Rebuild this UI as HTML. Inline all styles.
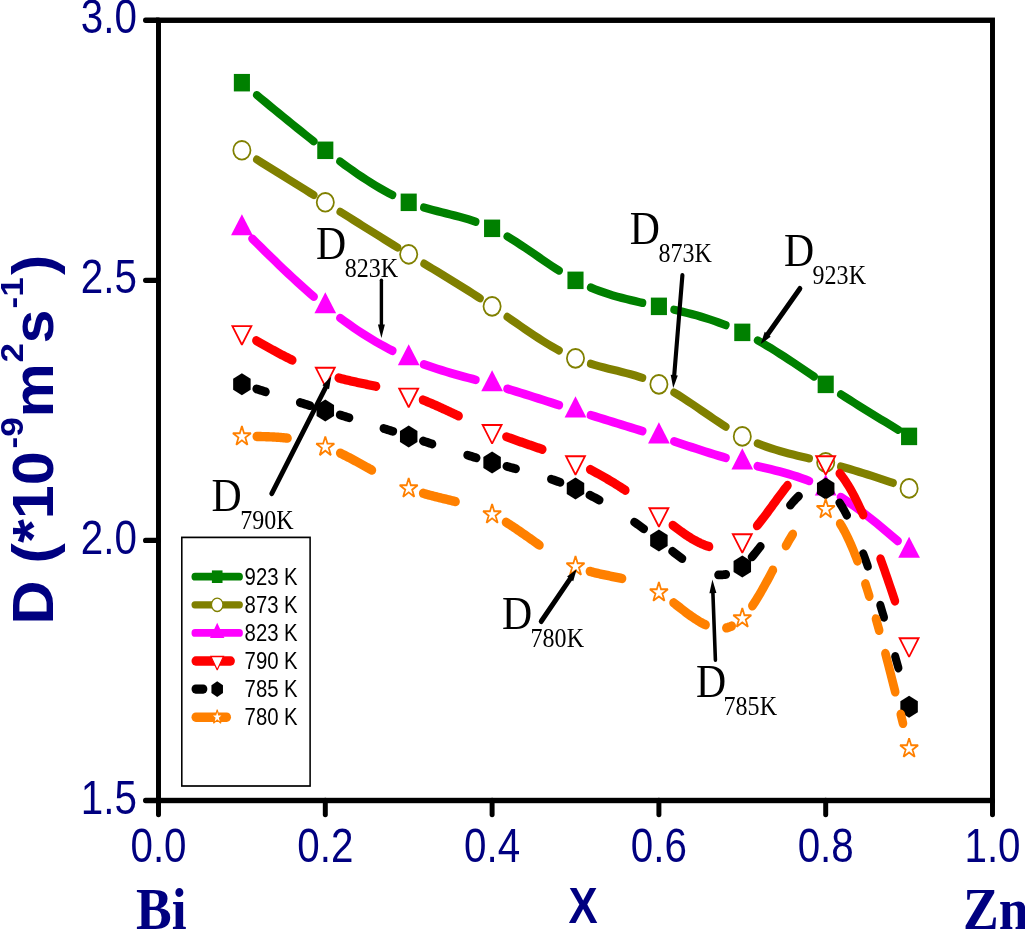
<!DOCTYPE html>
<html><head><meta charset="utf-8"><title>D vs X</title>
<style>html,body{margin:0;padding:0;background:#fff;overflow:hidden}svg{display:block}.sans{font-family:"Liberation Sans",sans-serif}.serif{font-family:"Liberation Serif",serif}</style>
</head><body>
<svg width="1025" height="929" viewBox="0 0 1025 929">
<rect width="1025" height="929" fill="#fff"/>
<g transform="scale(0.92,1)">
<g fill="none" stroke="#000" stroke-width="5.4" stroke-linecap="round">
<rect x="172.28" y="20.26" width="906.52" height="780.24" stroke-linejoin="miter"/>
<path d="M172.28,20.26 H158.15"/>
<path d="M172.28,280.34 H158.15"/>
<path d="M172.28,540.42 H158.15"/>
<path d="M172.28,800.5 H158.15"/>
<path d="M172.28,800.5 V814.5"/>
<path d="M353.59,800.5 V814.5"/>
<path d="M534.89,800.5 V814.5"/>
<path d="M716.2,800.5 V814.5"/>
<path d="M897.5,800.5 V814.5"/>
<path d="M1078.8,800.5 V814.5"/>
</g>
<text transform="translate(148.8,33.36) scale(0.91,1)" class="sans" font-size="48.2" text-anchor="end" fill="#000080" font-weight="normal">3.0</text>
<text transform="translate(148.8,293.44) scale(0.91,1)" class="sans" font-size="48.2" text-anchor="end" fill="#000080" font-weight="normal">2.5</text>
<text transform="translate(148.8,553.52) scale(0.91,1)" class="sans" font-size="48.2" text-anchor="end" fill="#000080" font-weight="normal">2.0</text>
<text transform="translate(148.8,813.6) scale(0.91,1)" class="sans" font-size="48.2" text-anchor="end" fill="#000080" font-weight="normal">1.5</text>
<text transform="translate(172.28,862) scale(0.91,1)" class="sans" font-size="48.2" text-anchor="middle" fill="#000080" font-weight="normal">0.0</text>
<text transform="translate(353.59,862) scale(0.91,1)" class="sans" font-size="48.2" text-anchor="middle" fill="#000080" font-weight="normal">0.2</text>
<text transform="translate(534.89,862) scale(0.91,1)" class="sans" font-size="48.2" text-anchor="middle" fill="#000080" font-weight="normal">0.4</text>
<text transform="translate(716.2,862) scale(0.91,1)" class="sans" font-size="48.2" text-anchor="middle" fill="#000080" font-weight="normal">0.6</text>
<text transform="translate(897.5,862) scale(0.91,1)" class="sans" font-size="48.2" text-anchor="middle" fill="#000080" font-weight="normal">0.8</text>
<text transform="translate(1078.8,862) scale(0.91,1)" class="sans" font-size="48.2" text-anchor="middle" fill="#000080" font-weight="normal">1.0</text>
<text transform="translate(147.83,928.5) scale(0.97,1)" class="serif" font-size="60" text-anchor="start" fill="#000080" font-weight="bold">Bi</text>
<text transform="translate(633.7,923) scale(0.96,1)" class="sans" font-size="49.5" text-anchor="middle" fill="#000080" font-weight="bold">X</text>
<text transform="translate(1046.74,928.5) scale(0.97,1)" class="serif" font-size="60" text-anchor="start" fill="#000080" font-weight="bold">Zn</text>
<g transform="translate(58.15,624.5) rotate(-90)" class="sans" font-weight="bold" fill="#000080">
<text transform="translate(0,0) scale(0.97,1)" font-size="63">D (*10</text>
<text transform="translate(176,-33.5) scale(1,1)" font-size="35">-9</text>
<text transform="translate(207,0) scale(0.97,1)" font-size="63">m</text>
<text transform="translate(262,-33.5) scale(1,1)" font-size="35">2</text>
<text transform="translate(281,0) scale(0.97,1)" font-size="63">s</text>
<text transform="translate(316,-33.5) scale(1,1)" font-size="35">-1</text>
<text transform="translate(349.5,0) scale(0.97,1)" font-size="63">)</text>
</g>
<g fill="none" stroke="#008000" stroke-width="8.3" stroke-linecap="round" stroke-linejoin="round">
<path d="M279.13,95.06 L283.97,98.74 L288.81,102.42 L293.64,106.09 L298.48,109.75 L303.31,113.4 L308.15,117.04 L312.98,120.66 L317.82,124.27 L322.65,127.86 L327.49,131.43 L332.33,134.98 L337.16,138.5 L341.03,141.31"/>
<path d="M369.56,161.42 L374.4,164.69 L379.23,167.91 L384.07,171.05 L388.9,174.13 L393.74,177.14 L398.57,180.06 L403.41,182.89 L408.24,185.62 L413.08,188.25 L417.92,190.78 L422.75,193.19 L426.62,195.02"/>
<path d="M460.71,207.49 L465.55,208.78 L470.38,210 L475.22,211.16 L480.05,212.29 L484.89,213.41 L489.72,214.52 L494.56,215.66 L499.4,216.83 L504.23,218.06 L509.07,219.36 L513.9,220.76 L517.04,221.72"/>
<path d="M551.38,236.45 L556.21,239.14 L561.05,241.94 L565.88,244.83 L570.72,247.78 L575.56,250.79 L580.39,253.83 L585.23,256.88 L590.06,259.93 L594.9,262.95 L599.73,265.93 L604.57,268.85 L607.71,270.7"/>
<path d="M642.04,287.51 L646.88,289.31 L651.72,290.99 L656.55,292.56 L661.39,294.02 L666.22,295.39 L671.06,296.68 L675.89,297.89 L680.73,299.04 L685.57,300.14 L690.4,301.18 L695.24,302.19 L698.38,302.83"/>
<path d="M732.71,309.71 L737.55,310.76 L742.38,311.84 L747.22,312.96 L752.05,314.12 L756.89,315.34 L761.73,316.62 L766.56,317.96 L771.4,319.37 L776.23,320.86 L781.07,322.43 L785.9,324.08 L788.93,325.16"/>
<path d="M823.5,340.37 L828.34,342.91 L833.17,345.53 L838.01,348.22 L842.84,350.98 L847.68,353.8 L852.51,356.67 L857.35,359.58 L862.19,362.52 L867.02,365.5 L871.86,368.49 L876.69,371.49 L881.53,374.5 L884.91,376.61"/>
<path d="M913.93,394.25 L918.76,397.11 L923.6,399.94 L928.43,402.75 L933.27,405.54 L938.1,408.32 L942.94,411.08 L947.78,413.82 L952.61,416.55 L957.45,419.28 L962.28,421.99 L967.12,424.69 L971.95,427.39 L976.3,429.81"/>
</g>
<rect x="254.18" y="73.93" width="17.5" height="17.5" fill="#008000"/>
<rect x="344.84" y="141.55" width="17.5" height="17.5" fill="#008000"/>
<rect x="435.49" y="193.57" width="17.5" height="17.5" fill="#008000"/>
<rect x="526.14" y="219.57" width="17.5" height="17.5" fill="#008000"/>
<rect x="616.79" y="271.59" width="17.5" height="17.5" fill="#008000"/>
<rect x="707.45" y="297.6" width="17.5" height="17.5" fill="#008000"/>
<rect x="798.1" y="323.61" width="17.5" height="17.5" fill="#008000"/>
<rect x="888.75" y="375.62" width="17.5" height="17.5" fill="#008000"/>
<rect x="979.4" y="427.64" width="17.5" height="17.5" fill="#008000"/>
<g fill="none" stroke="#808000" stroke-width="8.2" stroke-linecap="round" stroke-linejoin="round">
<path d="M279.13,159.56 L283.97,162.33 L288.81,165.1 L293.64,167.87 L298.48,170.63 L303.31,173.4 L308.15,176.18 L312.98,178.95 L317.82,181.72 L322.65,184.5 L327.49,187.28 L332.33,190.06 L337.16,192.84 L341.03,195.07"/>
<path d="M369.8,211.7 L374.64,214.5 L379.47,217.29 L384.31,220.09 L389.14,222.89 L393.98,225.68 L398.81,228.47 L403.65,231.25 L408.49,234.03 L413.32,236.81 L418.16,239.57 L422.99,242.33 L427.83,245.08 L432.06,247.48"/>
<path d="M460.95,263.64 L465.79,266.32 L470.62,269.01 L475.46,271.7 L480.29,274.39 L485.13,277.1 L489.97,279.83 L494.8,282.57 L499.64,285.32 L504.47,288.11 L509.31,290.92 L514.14,293.76 L518.98,296.63 L521.76,298.3"/>
<path d="M551.38,316.85 L556.21,319.96 L561.05,323.07 L565.88,326.16 L570.72,329.23 L575.56,332.25 L580.39,335.22 L585.23,338.13 L590.06,340.97 L594.9,343.71 L599.73,346.36 L604.57,348.9 L607.71,350.49"/>
<path d="M642.04,363.79 L646.88,365.12 L651.72,366.36 L656.55,367.53 L661.39,368.66 L666.22,369.77 L671.06,370.86 L675.89,371.97 L680.73,373.12 L685.57,374.31 L690.4,375.58 L695.24,376.94 L698.38,377.88"/>
<path d="M732.71,392.49 L737.55,395.19 L742.38,398 L747.22,400.9 L752.05,403.87 L756.89,406.89 L761.73,409.94 L766.56,413.01 L771.4,416.07 L776.23,419.1 L781.07,422.08 L785.9,425 L788.93,426.78"/>
<path d="M823.38,443.4 L828.22,445.14 L833.05,446.76 L837.89,448.27 L842.72,449.68 L847.56,451.01 L852.39,452.26 L857.23,453.45 L862.06,454.58 L866.9,455.68 L871.74,456.75 L876.57,457.79 L879.59,458.44"/>
<path d="M913.93,466.43 L918.76,467.7 L923.6,469.01 L928.43,470.34 L933.27,471.7 L938.1,473.09 L942.94,474.5 L947.78,475.93 L952.61,477.38 L957.45,478.84 L962.28,480.33 L967.12,481.82 L970.74,482.95"/>
</g>
<circle cx="262.93" cy="150.3" r="9.35" fill="#fff" stroke="#808000" stroke-width="1.9"/>
<circle cx="353.59" cy="202.32" r="9.35" fill="#fff" stroke="#808000" stroke-width="1.9"/>
<circle cx="444.24" cy="254.33" r="9.35" fill="#fff" stroke="#808000" stroke-width="1.9"/>
<circle cx="534.89" cy="306.35" r="9.35" fill="#fff" stroke="#808000" stroke-width="1.9"/>
<circle cx="625.54" cy="358.36" r="9.35" fill="#fff" stroke="#808000" stroke-width="1.9"/>
<circle cx="716.2" cy="384.37" r="9.35" fill="#fff" stroke="#808000" stroke-width="1.9"/>
<circle cx="806.85" cy="436.39" r="9.35" fill="#fff" stroke="#808000" stroke-width="1.9"/>
<circle cx="897.5" cy="462.4" r="9.35" fill="#fff" stroke="#808000" stroke-width="1.9"/>
<circle cx="988.15" cy="488.4" r="9.35" fill="#fff" stroke="#808000" stroke-width="1.9"/>
<g fill="none" stroke="#ff00ff" stroke-width="8.7" stroke-linecap="round" stroke-linejoin="round">
<path d="M274.3,238.73 L279.13,243.15 L283.97,247.55 L288.81,251.93 L293.64,256.28 L298.48,260.61 L303.31,264.9 L308.15,269.15 L312.98,273.36 L317.82,277.52 L322.65,281.63 L327.49,285.68 L332.33,289.66 L337.16,293.59 L341.03,296.67"/>
<path d="M369.8,317.99 L374.64,321.27 L379.47,324.46 L384.31,327.56 L389.14,330.57 L393.98,333.49 L398.81,336.32 L403.65,339.05 L408.49,341.7 L413.32,344.25 L418.16,346.71 L422.99,349.08 L426.62,350.8"/>
<path d="M460.71,364.34 L465.55,365.91 L470.38,367.43 L475.22,368.88 L480.05,370.28 L484.89,371.63 L489.72,372.93 L494.56,374.21 L499.4,375.46 L504.23,376.68 L509.07,377.89 L513.9,379.09 L517.04,379.87"/>
<path d="M551.38,388.79 L556.21,390.13 L561.05,391.49 L565.88,392.86 L570.72,394.25 L575.56,395.65 L580.39,397.07 L585.23,398.49 L590.06,399.91 L594.9,401.34 L599.73,402.78 L604.57,404.21 L607.71,405.14"/>
<path d="M642.04,415.13 L646.88,416.51 L651.72,417.88 L656.55,419.25 L661.39,420.62 L666.22,421.99 L671.06,423.36 L675.89,424.73 L680.73,426.1 L685.57,427.48 L690.4,428.86 L695.24,430.25 L698.38,431.16"/>
<path d="M732.71,441.37 L737.55,442.85 L742.38,444.32 L747.22,445.79 L752.05,447.25 L756.89,448.7 L761.73,450.14 L766.56,451.56 L771.4,452.97 L776.23,454.35 L781.07,455.71 L785.9,457.04 L788.93,457.86"/>
<path d="M823.38,466.13 L828.22,467.19 L833.05,468.26 L837.89,469.34 L842.72,470.44 L847.56,471.59 L852.39,472.79 L857.23,474.04 L862.06,475.37 L866.9,476.79 L871.74,478.29 L876.57,479.91 L879.59,480.98"/>
<path d="M913.93,497.08 L918.76,499.95 L923.6,502.95 L928.43,506.06 L933.27,509.29 L938.1,512.61 L942.94,516.03 L947.78,519.54 L952.61,523.11 L957.45,526.75 L962.28,530.45 L967.12,534.2 L971.95,537.98 L975.82,541.03"/>
</g>
<path d="M262.93,214.22 L274.73,235.32 L251.13,235.32 Z" fill="#ff00ff"/>
<path d="M353.59,292.25 L365.39,313.35 L341.79,313.35 Z" fill="#ff00ff"/>
<path d="M444.24,344.26 L456.04,365.36 L432.44,365.36 Z" fill="#ff00ff"/>
<path d="M534.89,370.27 L546.69,391.37 L523.09,391.37 Z" fill="#ff00ff"/>
<path d="M625.54,396.28 L637.34,417.38 L613.74,417.38 Z" fill="#ff00ff"/>
<path d="M716.2,422.29 L728,443.39 L704.4,443.39 Z" fill="#ff00ff"/>
<path d="M806.85,448.3 L818.65,469.4 L795.05,469.4 Z" fill="#ff00ff"/>
<path d="M897.5,474.3 L909.3,495.4 L885.7,495.4 Z" fill="#ff00ff"/>
<path d="M988.15,536.72 L999.95,557.82 L976.35,557.82 Z" fill="#ff00ff"/>
<g fill="none" stroke="#ff0000" stroke-width="9.2" stroke-linecap="round" stroke-linejoin="round">
<path d="M278.65,340.73 L280.1,341.49 L281.55,342.25 L283,343.02 L284.45,343.77 L285.9,344.53 L287.35,345.28 L288.81,346.03 L290.26,346.78 L291.71,347.53 L293.16,348.27 L294.61,349 L296.06,349.74 L297.51,350.47 L298.96,351.19 L300.41,351.92 L301.86,352.63 L303.31,353.35 L304.76,354.05 L306.21,354.76 L307.66,355.46 L309.11,356.15 L310.57,356.84 L312.02,357.52 L313.47,358.19 L314.92,358.86 L316.37,359.53 L317.7,360.13"/>
<path d="M368.11,377.96 L369.56,378.31 L371.01,378.66 L372.46,379 L373.91,379.33 L375.36,379.66 L376.81,379.98 L378.26,380.3 L379.71,380.61 L381.16,380.92 L382.62,381.22 L384.07,381.52 L385.52,381.82 L386.97,382.11 L388.42,382.4 L389.87,382.69 L391.32,382.97 L392.77,383.25 L394.22,383.53 L395.67,383.81 L397.12,384.09 L398.57,384.37 L400.02,384.65 L401.47,384.93 L402.93,385.21 L404.38,385.49 L405.83,385.77 L407.28,386.05 L408.73,386.34 L408.85,386.36"/>
<path d="M459.74,399.98 L461.19,400.52 L462.64,401.06 L464.1,401.61 L465.55,402.17 L467,402.73 L468.45,403.3 L469.9,403.87 L471.35,404.45 L472.8,405.04 L474.25,405.63 L475.7,406.22 L477.15,406.82 L478.6,407.42 L480.05,408.03 L481.5,408.64 L482.95,409.25 L484.4,409.87 L485.86,410.49 L487.31,411.11 L488.76,411.74 L490.21,412.36 L491.66,412.99 L493.11,413.62 L494.56,414.25 L496.01,414.89 L497.46,415.52 L498.55,415.99"/>
<path d="M550.41,436.76 L551.86,437.25 L553.31,437.74 L554.76,438.22 L556.21,438.71 L557.66,439.18 L559.11,439.66 L560.57,440.13 L562.02,440.6 L563.47,441.07 L564.92,441.54 L566.37,442 L567.82,442.47 L569.27,442.93 L570.72,443.39 L572.17,443.85 L573.62,444.31 L575.07,444.77 L576.52,445.23 L577.97,445.69 L579.42,446.15 L580.87,446.61 L582.33,447.07 L583.78,447.53 L585.23,448 L586.68,448.46 L588.13,448.93 L589.46,449.36"/>
<path d="M641.44,469.48 L642.89,470.17 L644.34,470.87 L645.79,471.58 L647.24,472.3 L648.69,473.02 L650.14,473.76 L651.6,474.5 L653.05,475.24 L654.5,476 L655.95,476.76 L657.4,477.53 L658.85,478.3 L660.3,479.09 L661.75,479.88 L663.2,480.68 L664.65,481.48 L666.1,482.3 L667.55,483.12 L669,483.94 L670.45,484.78 L671.9,485.62 L673.36,486.46 L674.81,487.32 L676.26,488.18 L677.71,489.05 L679.16,489.92 L679.76,490.29"/>
<path d="M731.26,525.24 L732.71,526.27 L734.16,527.29 L735.61,528.29 L737.06,529.29 L738.51,530.27 L739.97,531.24 L741.42,532.2 L742.87,533.14 L744.32,534.07 L745.77,534.97 L747.22,535.86 L748.67,536.73 L750.12,537.57 L751.57,538.39 L753.02,539.19 L754.47,539.96 L755.92,540.71 L757.37,541.42 L758.82,542.11 L760.28,542.77 L761.73,543.4 L763.18,543.99 L764.63,544.55 L766.08,545.08 L767.53,545.56 L768.98,546.02 L770.43,546.43 L770.79,546.52"/>
<path d="M822.9,525.72 L824.35,524.1 L825.8,522.45 L827.25,520.77 L828.7,519.06 L830.15,517.32 L831.6,515.57 L833.05,513.79 L834.5,511.99 L835.95,510.19 L837.4,508.37 L838.85,506.55 L840.3,504.72 L841.75,502.89 L843.21,501.06 L844.66,499.24 L846.11,497.42 L847.56,495.62 L849.01,493.83 L850.46,492.05 L851.91,490.3 L853.36,488.57 L854.81,486.86 L856.02,485.46"/>
<path d="M912.72,473.37 L914.17,475.01 L915.62,476.75 L917.07,478.58 L918.52,480.51 L919.97,482.52 L921.42,484.63 L922.87,486.82 L924.32,489.09 L925.77,491.45 L927.22,493.89 L928.67,496.4 L930.13,499 L931.58,501.67 L933.03,504.41 L934.48,507.23 L935.93,510.11 L937.38,513.06 L938.22,514.82"/>
<path d="M957.08,558.91 L958.53,562.63 L959.98,566.4 L961.44,570.2 L962.89,574.04 L964.34,577.91 L965.79,581.8 L967.24,585.73 L968.69,589.69 L970.14,593.67 L971.59,597.67 L972.8,601.03"/>
</g>
<path d="M252.63,326.16 L273.23,326.16 L262.93,344.76 Z" fill="#fff" stroke="#ff0000" stroke-width="1.9" stroke-linejoin="miter" stroke-miterlimit="2"/>
<path d="M343.29,367.77 L363.89,367.77 L353.59,386.37 Z" fill="#fff" stroke="#ff0000" stroke-width="1.9" stroke-linejoin="miter" stroke-miterlimit="2"/>
<path d="M433.94,388.58 L454.54,388.58 L444.24,407.18 Z" fill="#fff" stroke="#ff0000" stroke-width="1.9" stroke-linejoin="miter" stroke-miterlimit="2"/>
<path d="M524.59,424.99 L545.19,424.99 L534.89,443.59 Z" fill="#fff" stroke="#ff0000" stroke-width="1.9" stroke-linejoin="miter" stroke-miterlimit="2"/>
<path d="M615.24,456.2 L635.84,456.2 L625.54,474.8 Z" fill="#fff" stroke="#ff0000" stroke-width="1.9" stroke-linejoin="miter" stroke-miterlimit="2"/>
<path d="M705.9,508.21 L726.5,508.21 L716.2,526.81 Z" fill="#fff" stroke="#ff0000" stroke-width="1.9" stroke-linejoin="miter" stroke-miterlimit="2"/>
<path d="M796.55,534.22 L817.15,534.22 L806.85,552.82 Z" fill="#fff" stroke="#ff0000" stroke-width="1.9" stroke-linejoin="miter" stroke-miterlimit="2"/>
<path d="M887.2,456.2 L907.8,456.2 L897.5,474.8 Z" fill="#fff" stroke="#ff0000" stroke-width="1.9" stroke-linejoin="miter" stroke-miterlimit="2"/>
<path d="M977.85,638.25 L998.45,638.25 L988.15,656.85 Z" fill="#fff" stroke="#ff0000" stroke-width="1.9" stroke-linejoin="miter" stroke-miterlimit="2"/>
<g fill="none" stroke="#000000" stroke-width="8.8" stroke-linecap="round" stroke-linejoin="round">
<path d="M278.77,388.93 L280.22,389.35 L281.67,389.77 L283.12,390.19 L284.57,390.6 L286.02,391.02 L287.48,391.44 L288.81,391.82"/>
<path d="M326.04,402.51 L327.49,402.93 L328.94,403.34 L330.39,403.76 L331.84,404.17 L333.29,404.59 L334.74,405 L336.19,405.42 L337.16,405.7"/>
<path d="M369.44,414.88 L370.89,415.3 L372.34,415.71 L373.79,416.12 L375.24,416.53 L376.69,416.94 L378.14,417.36 L379.59,417.77 L379.71,417.8"/>
<path d="M416.95,428.44 L418.4,428.86 L419.85,429.27 L421.3,429.69 L422.75,430.11 L424.2,430.53 L425.65,430.95 L427.1,431.37 L427.22,431.41"/>
<path d="M459.86,441.02 L461.31,441.46 L462.77,441.89 L464.22,442.32 L465.67,442.75 L467.12,443.18 L468.57,443.62 L469.9,444.01"/>
<path d="M507.98,455.12 L509.43,455.53 L510.88,455.93 L512.33,456.34 L513.78,456.74 L515.23,457.14 L516.68,457.54 L517.89,457.88"/>
<path d="M550.65,466.34 L552.1,466.7 L553.55,467.06 L555,467.41 L556.46,467.77 L557.91,468.13 L559.36,468.49 L560.69,468.81"/>
<path d="M599.01,479.14 L600.46,479.59 L601.91,480.04 L603.36,480.5 L604.81,480.97 L606.26,481.44 L607.71,481.92 L609.04,482.36"/>
<path d="M640.96,495.05 L642.41,495.72 L643.86,496.41 L645.31,497.1 L646.76,497.8 L648.21,498.51 L649.66,499.23 L651.11,499.95 L651.47,500.14"/>
<path d="M689.55,522.08 L691.01,523.02 L692.46,523.96 L693.91,524.92 L695.36,525.88 L696.81,526.84 L698.26,527.82 L699.71,528.8 L699.83,528.88"/>
<path d="M730.9,551.27 L732.35,552.33 L733.8,553.37 L735.25,554.41 L736.7,555.44 L738.15,556.45 L739.6,557.46 L741.05,558.44 L741.42,558.69"/>
<path d="M780.71,574.9 L782.16,574.94 L783.61,574.92 L785.06,574.85 L786.51,574.73 L787.96,574.54 L789.17,574.35"/>
<path d="M817.34,556.93 L818.79,555.38 L820.24,553.78 L821.69,552.13 L823.14,550.45 L824.59,548.73 L826.04,546.98 L826.52,546.38"/>
<path d="M859.04,505.21 L860.49,503.62 L861.94,502.08 L863.39,500.59 L864.84,499.15 L866.3,497.77 L867.75,496.45 L868.11,496.13"/>
<path d="M912.6,502.83 L914.05,504.88 L915.5,507.05 L916.95,509.31 L918.4,511.69 L919.85,514.16 L920.45,515.22"/>
<path d="M938.35,553.75 L939.8,557.41 L941.25,561.14 L942.7,564.94 L943.18,566.23"/>
<path d="M956.84,605.17 L958.29,609.57 L959.74,614.02 L960.83,617.39"/>
<path d="M973.04,656.47 L974.49,661.24 L975.94,666.04 L976.55,668.04"/>
</g>
<path d="M262.93,373.37 L272.43,378.87 L272.43,389.87 L262.93,395.37 L253.43,389.87 L253.43,378.87 Z" fill="#000000"/>
<path d="M353.59,399.38 L363.09,404.88 L363.09,415.88 L353.59,421.38 L344.09,415.88 L344.09,404.88 Z" fill="#000000"/>
<path d="M444.24,425.39 L453.74,430.89 L453.74,441.89 L444.24,447.39 L434.74,441.89 L434.74,430.89 Z" fill="#000000"/>
<path d="M534.89,451.4 L544.39,456.9 L544.39,467.9 L534.89,473.4 L525.39,467.9 L525.39,456.9 Z" fill="#000000"/>
<path d="M625.54,477.4 L635.04,482.9 L635.04,493.9 L625.54,499.4 L616.04,493.9 L616.04,482.9 Z" fill="#000000"/>
<path d="M716.2,529.42 L725.7,534.92 L725.7,545.92 L716.2,551.42 L706.7,545.92 L706.7,534.92 Z" fill="#000000"/>
<path d="M806.85,555.43 L816.35,560.93 L816.35,571.93 L806.85,577.43 L797.35,571.93 L797.35,560.93 Z" fill="#000000"/>
<path d="M897.5,477.4 L907,482.9 L907,493.9 L897.5,499.4 L888,493.9 L888,482.9 Z" fill="#000000"/>
<path d="M988.15,695.87 L997.65,701.37 L997.65,712.37 L988.15,717.87 L978.65,712.37 L978.65,701.37 Z" fill="#000000"/>
<g fill="none" stroke="#ff8000" stroke-width="9.4" stroke-linecap="round" stroke-linejoin="round">
<path d="M279.13,436.48 L280.58,436.5 L282.04,436.53 L283.49,436.55 L284.94,436.58 L286.39,436.62 L287.84,436.66 L289.29,436.7 L290.74,436.74 L292.19,436.8 L293.64,436.85 L295.09,436.92 L296.54,436.98 L297.99,437.06 L299.44,437.14 L300.89,437.22 L302.34,437.31 L303.8,437.41 L305.25,437.52 L306.7,437.63 L308.15,437.76 L309.6,437.88 L311.05,438.02 L312.5,438.17"/>
<path d="M369.8,453.17 L371.25,453.81 L372.7,454.46 L374.15,455.12 L375.6,455.79 L377.05,456.47 L378.51,457.16 L379.96,457.85 L381.41,458.55 L382.86,459.26 L384.31,459.97 L385.76,460.69 L387.21,461.41 L388.66,462.14 L390.11,462.87 L391.56,463.61 L393.01,464.35 L394.46,465.09 L395.91,465.83 L397.36,466.57 L398.81,467.32 L400.27,468.06 L401.72,468.81 L403.17,469.55 L404.25,470.11"/>
<path d="M459.99,493.32 L461.44,493.71 L462.89,494.09 L464.34,494.47 L465.79,494.83 L467.24,495.19 L468.69,495.55 L470.14,495.9 L471.59,496.24 L473.04,496.58 L474.49,496.92 L475.94,497.25 L477.39,497.58 L478.84,497.9 L480.29,498.23 L481.75,498.55 L483.2,498.87 L484.65,499.2 L486.1,499.52 L487.55,499.85 L489,500.17 L490.45,500.5 L491.9,500.83 L493.35,501.16 L494.8,501.5 L495.16,501.59"/>
<path d="M550.05,522.28 L551.5,523.11 L552.95,523.96 L554.4,524.82 L555.85,525.69 L557.3,526.56 L558.75,527.45 L560.2,528.35 L561.65,529.25 L563.1,530.16 L564.55,531.07 L566.01,532 L567.46,532.92 L568.91,533.85 L570.36,534.79 L571.81,535.73 L573.26,536.67 L574.71,537.61 L576.16,538.55 L577.61,539.49 L579.06,540.43 L580.51,541.38 L581.96,542.32 L583.41,543.25 L584.86,544.19 L586.31,545.12"/>
<path d="M641.2,571.41 L642.65,571.78 L644.1,572.13 L645.55,572.48 L647,572.81 L648.45,573.13 L649.9,573.44 L651.35,573.75 L652.8,574.05 L654.25,574.34 L655.71,574.62 L657.16,574.91 L658.61,575.18 L660.06,575.46 L661.51,575.73 L662.96,576 L664.41,576.27 L665.86,576.54 L667.31,576.81 L668.76,577.08 L670.21,577.35 L671.66,577.63 L673.11,577.92 L674.56,578.21 L676.01,578.5 L676.14,578.53"/>
<path d="M732.11,602.76 L733.56,603.79 L735.01,604.82 L736.46,605.86 L737.91,606.9 L739.36,607.94 L740.81,608.97 L742.26,610 L743.71,611.03 L745.16,612.04 L746.61,613.05 L748.07,614.04 L749.52,615.01 L750.97,615.97 L752.42,616.91 L753.87,617.83 L755.32,618.72 L756.77,619.59 L758.22,620.43 L759.67,621.25 L761.12,622.03 L762.57,622.77 L764.02,623.48 L765.47,624.15 L766.92,624.78"/>
<path d="M789.53,627.89 L790.98,627.55 L792.43,627.14 L793.88,626.65 L795.33,626.08"/>
<path d="M817.82,605.82 L819.27,603.82 L820.72,601.75 L822.17,599.63 L823.62,597.45 L825.07,595.22 L826.52,592.94 L827.97,590.62 L829.42,588.26 L830.87,585.87 L832.33,583.44 L833.78,580.99 L835.23,578.51 L836.68,576.02 L838.13,573.51 L839.58,570.99 L840.06,570.15"/>
<path d="M854.33,545.76 L855.78,543.41 L857.23,541.1 L858.68,538.83 L860.13,536.61 L861.58,534.44 L861.7,534.26"/>
<path d="M913.2,523.64 L914.65,525.79 L916.1,528.08 L917.55,530.49 L919,533.03 L920.45,535.69 L921.9,538.46 L923.36,541.35 L924.81,544.36 L926.26,547.47 L927.71,550.7 L929.16,554.03 L930.61,557.46 L932.06,560.99"/>
<path d="M940.64,583.83 L942.09,587.99 L943.54,592.23 L944.87,596.19"/>
<path d="M952.13,618.84 L953.58,623.57 L955.03,628.36 L955.63,630.37"/>
<path d="M962.4,653.55 L963.85,658.66 L965.3,663.8 L966.75,668.99 L968.21,674.21 L969.66,679.47 L971.11,684.76 L972.56,690.08 L973.04,691.86"/>
<path d="M979.09,714.33 L980.54,719.77 L981.5,723.4"/>
</g>
<path d="M262.93,426.09 L265.25,433.2 L272.73,433.21 L266.68,437.6 L268.99,444.72 L262.93,440.32 L256.88,444.72 L259.19,437.6 L253.14,433.21 L260.62,433.2 Z" fill="#fff" stroke="#ff8000" stroke-width="1.9" stroke-linejoin="miter" stroke-miterlimit="2"/>
<path d="M353.59,436.49 L355.9,443.61 L363.38,443.61 L357.33,448.01 L359.64,455.12 L353.59,450.73 L347.53,455.12 L349.84,448.01 L343.79,443.61 L351.27,443.61 Z" fill="#fff" stroke="#ff8000" stroke-width="1.9" stroke-linejoin="miter" stroke-miterlimit="2"/>
<path d="M444.24,478.1 L446.55,485.22 L454.04,485.22 L447.98,489.62 L450.29,496.74 L444.24,492.34 L438.18,496.74 L440.5,489.62 L434.44,485.22 L441.93,485.22 Z" fill="#fff" stroke="#ff8000" stroke-width="1.9" stroke-linejoin="miter" stroke-miterlimit="2"/>
<path d="M534.89,504.11 L537.2,511.23 L544.69,511.23 L538.63,515.63 L540.95,522.74 L534.89,518.35 L528.84,522.74 L531.15,515.63 L525.1,511.23 L532.58,511.23 Z" fill="#fff" stroke="#ff8000" stroke-width="1.9" stroke-linejoin="miter" stroke-miterlimit="2"/>
<path d="M625.54,556.13 L627.86,563.24 L635.34,563.25 L629.29,567.64 L631.6,574.76 L625.54,570.36 L619.49,574.76 L621.8,567.64 L615.75,563.25 L623.23,563.24 Z" fill="#fff" stroke="#ff8000" stroke-width="1.9" stroke-linejoin="miter" stroke-miterlimit="2"/>
<path d="M716.2,582.14 L718.51,589.25 L725.99,589.25 L719.94,593.65 L722.25,600.77 L716.2,596.37 L710.14,600.77 L712.45,593.65 L706.4,589.25 L713.88,589.25 Z" fill="#fff" stroke="#ff8000" stroke-width="1.9" stroke-linejoin="miter" stroke-miterlimit="2"/>
<path d="M806.85,608.14 L809.16,615.26 L816.64,615.26 L810.59,619.66 L812.9,626.78 L806.85,622.38 L800.79,626.78 L803.11,619.66 L797.05,615.26 L804.54,615.26 Z" fill="#fff" stroke="#ff8000" stroke-width="1.9" stroke-linejoin="miter" stroke-miterlimit="2"/>
<path d="M897.5,498.91 L899.81,506.03 L907.3,506.03 L901.24,510.43 L903.55,517.54 L897.5,513.14 L891.45,517.54 L893.76,510.43 L887.7,506.03 L895.19,506.03 Z" fill="#fff" stroke="#ff8000" stroke-width="1.9" stroke-linejoin="miter" stroke-miterlimit="2"/>
<path d="M988.15,738.18 L990.46,745.3 L997.95,745.3 L991.89,749.7 L994.21,756.82 L988.15,752.42 L982.1,756.82 L984.41,749.7 L978.36,745.3 L985.84,745.3 Z" fill="#fff" stroke="#ff8000" stroke-width="1.9" stroke-linejoin="miter" stroke-miterlimit="2"/>
<rect x="197.61" y="537.4" width="139.46" height="248.6" fill="#fff" fill-opacity="0" stroke="#000" stroke-width="1.7"/>
<path d="M212.05,576.7 H260.12" stroke="#008000" stroke-width="7.8" stroke-linecap="round" fill="none"/>
<g transform="translate(236.09,576.7) scale(0.66,0.72) translate(-236.09,-576.7)"><rect x="227.34" y="567.95" width="17.5" height="17.5" fill="#008000"/></g>
<text transform="translate(265.87,584.5) scale(0.92,1)" class="sans" font-size="24" text-anchor="start" fill="#000" font-weight="normal">923 K</text>
<path d="M211.75,604.8 H260.42" stroke="#808000" stroke-width="7.2" stroke-linecap="round" fill="none"/>
<g transform="translate(236.09,604.8) scale(0.66,0.72) translate(-236.09,-604.8)"><circle cx="236.09" cy="604.8" r="9.35" fill="#fff" stroke="#808000" stroke-width="1.9"/></g>
<text transform="translate(265.87,612.6) scale(0.92,1)" class="sans" font-size="24" text-anchor="start" fill="#000" font-weight="normal">873 K</text>
<path d="M212.05,632.9 H260.12" stroke="#ff00ff" stroke-width="7.8" stroke-linecap="round" fill="none"/>
<g transform="translate(236.09,632.9) scale(0.66,0.72) translate(-236.09,-632.9)"><path d="M236.09,618.8 L247.89,639.9 L224.29,639.9 Z" fill="#ff00ff"/></g>
<text transform="translate(265.87,640.7) scale(0.92,1)" class="sans" font-size="24" text-anchor="start" fill="#000" font-weight="normal">823 K</text>
<path d="M212.85,661 H250.63" stroke="#ff0000" stroke-width="9.4" stroke-linecap="round" fill="none"/>
<g transform="translate(236.09,661) scale(0.66,0.72) translate(-236.09,-661)"><path d="M225.79,654.8 L246.39,654.8 L236.09,673.4 Z" fill="#fff" stroke="#ff0000" stroke-width="1.9" stroke-linejoin="miter" stroke-miterlimit="2"/></g>
<text transform="translate(265.87,668.8) scale(0.92,1)" class="sans" font-size="24" text-anchor="start" fill="#000" font-weight="normal">790 K</text>
<path d="M212.75,689.1 H220.83" stroke="#000000" stroke-width="9.2" stroke-linecap="round" fill="none"/>
<g transform="translate(236.09,689.1) scale(0.66,0.72) translate(-236.09,-689.1)"><path d="M236.09,678.1 L245.59,683.6 L245.59,694.6 L236.09,700.1 L226.59,694.6 L226.59,683.6 Z" fill="#000000"/></g>
<text transform="translate(265.87,696.9) scale(0.92,1)" class="sans" font-size="24" text-anchor="start" fill="#000" font-weight="normal">785 K</text>
<path d="M212.9,717.2 H246.34" stroke="#ff8000" stroke-width="9.5" stroke-linecap="round" fill="none"/>
<g transform="translate(236.09,717.2) scale(0.66,0.72) translate(-236.09,-717.2)"><path d="M236.09,706.9 L238.4,714.02 L245.88,714.02 L239.83,718.42 L242.14,725.53 L236.09,721.13 L230.03,725.53 L232.34,718.42 L226.29,714.02 L233.77,714.02 Z" fill="#fff" stroke="#ff8000" stroke-width="1.9" stroke-linejoin="miter" stroke-miterlimit="2"/></g>
<text transform="translate(265.87,725) scale(0.92,1)" class="sans" font-size="24" text-anchor="start" fill="#000" font-weight="normal">780 K</text>
<text transform="translate(343.48,259) scale(0.96,1)" class="serif" font-size="47.3" text-anchor="start" fill="#000" font-weight="normal">D</text><text transform="translate(374.67,276.9) scale(0.94,1)" class="serif" font-size="27.8" text-anchor="start" fill="#000" font-weight="normal">823K</text>
<text transform="translate(684.46,244) scale(0.96,1)" class="serif" font-size="47.3" text-anchor="start" fill="#000" font-weight="normal">D</text><text transform="translate(715.65,261.9) scale(0.94,1)" class="serif" font-size="27.8" text-anchor="start" fill="#000" font-weight="normal">873K</text>
<text transform="translate(852.07,266) scale(0.96,1)" class="serif" font-size="47.3" text-anchor="start" fill="#000" font-weight="normal">D</text><text transform="translate(883.26,283.9) scale(0.94,1)" class="serif" font-size="27.8" text-anchor="start" fill="#000" font-weight="normal">923K</text>
<text transform="translate(230,511.3) scale(0.96,1)" class="serif" font-size="47.3" text-anchor="start" fill="#000" font-weight="normal">D</text><text transform="translate(261.2,529.2) scale(0.94,1)" class="serif" font-size="27.8" text-anchor="start" fill="#000" font-weight="normal">790K</text>
<text transform="translate(545.54,629.3) scale(0.96,1)" class="serif" font-size="47.3" text-anchor="start" fill="#000" font-weight="normal">D</text><text transform="translate(576.74,647.2) scale(0.94,1)" class="serif" font-size="27.8" text-anchor="start" fill="#000" font-weight="normal">780K</text>
<text transform="translate(756.41,696.6) scale(0.96,1)" class="serif" font-size="47.3" text-anchor="start" fill="#000" font-weight="normal">D</text><text transform="translate(786.52,714.5) scale(0.94,1)" class="serif" font-size="27.8" text-anchor="start" fill="#000" font-weight="normal">785K</text>
<path d="M414.57,280.3 L414.57,326.5" stroke="#000" stroke-width="3.7" stroke-linecap="round" fill="none"/><path d="M414.57,338.1 L410.77,324.5 L418.37,324.5 Z" fill="#000"/>
<path d="M741.74,275.2 L732.7,377.14" stroke="#000" stroke-width="4.5" stroke-linecap="round" fill="none"/><path d="M731.74,388 L728.99,374.81 L736.76,375.49 Z" fill="#000"/>
<path d="M869.46,288.6 L833.24,335.77" stroke="#000" stroke-width="5.3" stroke-linecap="round" fill="none"/><path d="M826.85,344.1 L831.21,331.69 L837.71,336.68 Z" fill="#000"/>
<path d="M295.43,493.6 L355.04,385.59" stroke="#000" stroke-width="5.2" stroke-linecap="round" fill="none"/><path d="M360.11,376.4 L357.66,389.33 L350.48,385.36 Z" fill="#000"/>
<path d="M588.26,621.4 L620.9,577.24" stroke="#000" stroke-width="5.3" stroke-linecap="round" fill="none"/><path d="M626.85,569.2 L623.01,581.29 L616.42,576.41 Z" fill="#000"/>
<path d="M777.61,660 L774.82,591.09" stroke="#000" stroke-width="3.9" stroke-linecap="round" fill="none"/><path d="M774.35,579.5 L778.7,592.94 L771.1,593.24 Z" fill="#000"/>
</g>
</svg></body></html>
